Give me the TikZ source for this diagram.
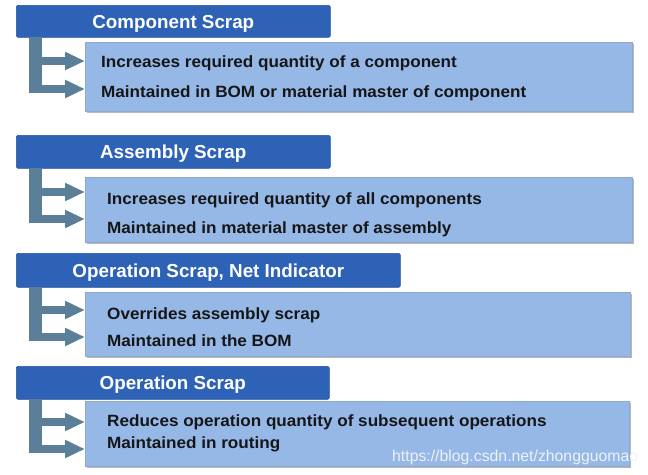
\documentclass[tikz,border=0pt]{standalone}
\usepackage{fontspec}
\setmainfont{Liberation Sans}
\newfontfamily\bodyfont[FakeStretch=1.05]{Liberation Sans}
\usetikzlibrary{arrows.meta,shadows}
\definecolor{titleblue}{RGB}{45,98,183}
\definecolor{contentblue}{RGB}{149,184,230}
\definecolor{bracketcol}{RGB}{92,127,153}
\definecolor{bodyblack}{RGB}{22,22,24}
\definecolor{wmark}{RGB}{238,241,246}
\begin{document}
\begin{tikzpicture}[x=1pt,y=-1pt,
  titlebox/.style={fill=titleblue, draw=titleblue!85!black, line width=0.6pt,
    rounded corners=1.5pt, inner sep=0pt, anchor=north west, text=white,
    text height=13.5pt, text depth=0pt,
    font=\fontsize{18.8}{20}\selectfont\bfseries},
  contentbox/.style={fill=contentblue, draw=contentblue!75!gray, line width=0.6pt,
    inner sep=0pt, anchor=north west,
    drop shadow={shadow xshift=1.2pt, shadow yshift=-1.2pt, fill=black!55, opacity=0.5}},
  bodytext/.style={anchor=base west, inner sep=0pt, text=bodyblack,
    font=\bodyfont\bfseries\fontsize{16.3}{18}\selectfont},
  bar/.style={draw=bracketcol, line width=13pt},
  arr/.style={draw=bracketcol, line width=8pt, -{Triangle[length=20pt,width=17pt]}},
  wm/.style={anchor=base west, inner sep=0pt, text=wmark,
    font=\fontsize{15.8}{17}\selectfont}
]
\useasboundingbox[fill=white] (0,0) rectangle (648,474);

% ---------- Section 1 ----------
\node[contentbox, minimum width=547pt, minimum height=69pt] (c1) at (85,42) {};
\node[titlebox, minimum width=314pt, minimum height=32pt] (h1) at (16,5) {Component Scrap};
\node[bodytext] (t1a) at (101,67) {Increases required quantity of a component};
\node[bodytext] (t1b) at (101,97) {Maintained in BOM or material master of component};
\coordinate (b1top) at (35.5,37);
\coordinate (b1bot) at (35.5,93);
\coordinate (a1a) at (29,61);
\coordinate (a1b) at (29,89);
\draw[bar] (b1top) -- (b1bot);
\draw[arr] (a1a) -- (a1a -| c1.west);
\draw[arr] (a1b) -- (a1b -| c1.west);

% ---------- Section 2 ----------
\node[contentbox, minimum width=547pt, minimum height=65pt] (c2) at (85,177) {};
\node[titlebox, minimum width=314pt, minimum height=33pt] (h2) at (16,135) {Assembly Scrap};
\node[bodytext] (t2a) at (107,204) {Increases required quantity of all components};
\node[bodytext] (t2b) at (107,233) {Maintained in material master of assembly};
\coordinate (b2top) at (35.5,168);
\coordinate (b2bot) at (35.5,223);
\coordinate (a2a) at (29,192);
\coordinate (a2b) at (29,219);
\draw[bar] (b2top) -- (b2bot);
\draw[arr] (a2a) -- (a2a -| c2.west);
\draw[arr] (a2b) -- (a2b -| c2.west);

% ---------- Section 3 ----------
\node[contentbox, minimum width=545pt, minimum height=64pt] (c3) at (85,292) {};
\node[titlebox, minimum width=384pt, minimum height=34pt] (h3) at (16,253) {Operation Scrap, Net Indicator};
\node[bodytext] (t3a) at (107,319) {Overrides assembly scrap};
\node[bodytext] (t3b) at (107,346) {Maintained in the BOM};
\coordinate (b3top) at (35.5,287);
\coordinate (b3bot) at (35.5,341);
\coordinate (a3a) at (29,310);
\coordinate (a3b) at (29,337);
\draw[bar] (b3top) -- (b3bot);
\draw[arr] (a3a) -- (a3a -| c3.west);
\draw[arr] (a3b) -- (a3b -| c3.west);

% ---------- Section 4 ----------
\node[contentbox, minimum width=544pt, minimum height=65pt] (c4) at (85,401) {};
\node[titlebox, minimum width=313pt, minimum height=33pt] (h4) at (16,366) {Operation Scrap};
\node[bodytext] (t4a) at (107,426) {Reduces operation quantity of subsequent operations};
\node[bodytext] (t4b) at (107,448) {Maintained in routing};
\coordinate (b4top) at (35.5,399);
\coordinate (b4bot) at (35.5,453);
\coordinate (a4a) at (29,422);
\coordinate (a4b) at (29,449);
\draw[bar] (b4top) -- (b4bot);
\draw[arr] (a4a) -- (a4a -| c4.west);
\draw[arr] (a4b) -- (a4b -| c4.west);

% ---------- watermark ----------
\node[wm] (wmk) at (392,461) {https://blog.csdn.net/zhongguomao};
\end{tikzpicture}
\end{document}
